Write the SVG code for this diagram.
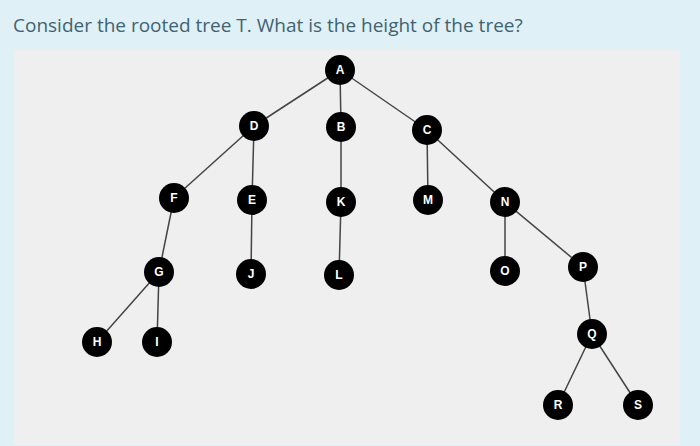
<svg xmlns="http://www.w3.org/2000/svg" width="700" height="446" viewBox="0 0 700 446">
<style>
.n circle{fill:#000}
.n text{fill:#fff;font-family:"Liberation Sans",Arial,sans-serif;font-weight:bold;font-size:12px;text-anchor:middle;dominant-baseline:central}
#edges line{stroke:#444;stroke-width:1.5}
</style>
<rect width="700" height="446" fill="#e0f0f7"/>
<rect x="14" y="50" width="666" height="395" fill="#efefef"/>
<text x="13" y="32" font-family="'Open Sans','Liberation Sans',sans-serif" font-size="19" fill="#3f6372">Consider the rooted tree T. What is the height of the tree?</text>
<g id="edges">
<line x1="340" y1="70" x2="254" y2="126"/><line x1="340" y1="70" x2="341" y2="127"/><line x1="340" y1="70" x2="427" y2="130"/>
<line x1="254" y1="126" x2="174" y2="198"/><line x1="254" y1="126" x2="252" y2="200"/>
<line x1="341" y1="127" x2="341" y2="202"/><line x1="427" y1="130" x2="428" y2="200"/><line x1="427" y1="130" x2="505" y2="202"/>
<line x1="174" y1="198" x2="159" y2="272"/><line x1="252" y1="200" x2="251" y2="274"/><line x1="341" y1="202" x2="339" y2="275"/>
<line x1="505" y1="202" x2="505" y2="271"/><line x1="505" y1="202" x2="583" y2="267"/>
<line x1="159" y1="272" x2="97" y2="342"/><line x1="159" y1="272" x2="157" y2="342"/>
<line x1="583" y1="267" x2="592" y2="334"/><line x1="592" y1="334" x2="558" y2="405"/><line x1="592" y1="334" x2="638" y2="405"/>
</g>
<g id="A" class="n"><circle cx="340" cy="70" r="15"/><text x="340" y="70">A</text></g>
<g id="D" class="n"><circle cx="254" cy="126" r="15"/><text x="254" y="126">D</text></g>
<g id="B" class="n"><circle cx="341" cy="127" r="15"/><text x="341" y="127">B</text></g>
<g id="C" class="n"><circle cx="427" cy="130" r="15"/><text x="427" y="130">C</text></g>
<g id="F" class="n"><circle cx="174" cy="198" r="15"/><text x="174" y="198">F</text></g>
<g id="E" class="n"><circle cx="252" cy="200" r="15"/><text x="252" y="200">E</text></g>
<g id="K" class="n"><circle cx="341" cy="202" r="15"/><text x="341" y="202">K</text></g>
<g id="M" class="n"><circle cx="428" cy="200" r="15"/><text x="428" y="200">M</text></g>
<g id="N" class="n"><circle cx="505" cy="202" r="15"/><text x="505" y="202">N</text></g>
<g id="G" class="n"><circle cx="159" cy="272" r="15"/><text x="159" y="272">G</text></g>
<g id="J" class="n"><circle cx="251" cy="274" r="15"/><text x="251" y="274">J</text></g>
<g id="L" class="n"><circle cx="339" cy="275" r="15"/><text x="339" y="275">L</text></g>
<g id="O" class="n"><circle cx="505" cy="271" r="15"/><text x="505" y="271">O</text></g>
<g id="P" class="n"><circle cx="583" cy="267" r="15"/><text x="583" y="267">P</text></g>
<g id="H" class="n"><circle cx="97" cy="342" r="15"/><text x="97" y="342">H</text></g>
<g id="I" class="n"><circle cx="157" cy="342" r="15"/><text x="157" y="342">I</text></g>
<g id="Q" class="n"><circle cx="592" cy="334" r="15"/><text x="592" y="334">Q</text></g>
<g id="R" class="n"><circle cx="558" cy="405" r="15"/><text x="558" y="405">R</text></g>
<g id="S" class="n"><circle cx="638" cy="405" r="15"/><text x="638" y="405">S</text></g>
</svg>
